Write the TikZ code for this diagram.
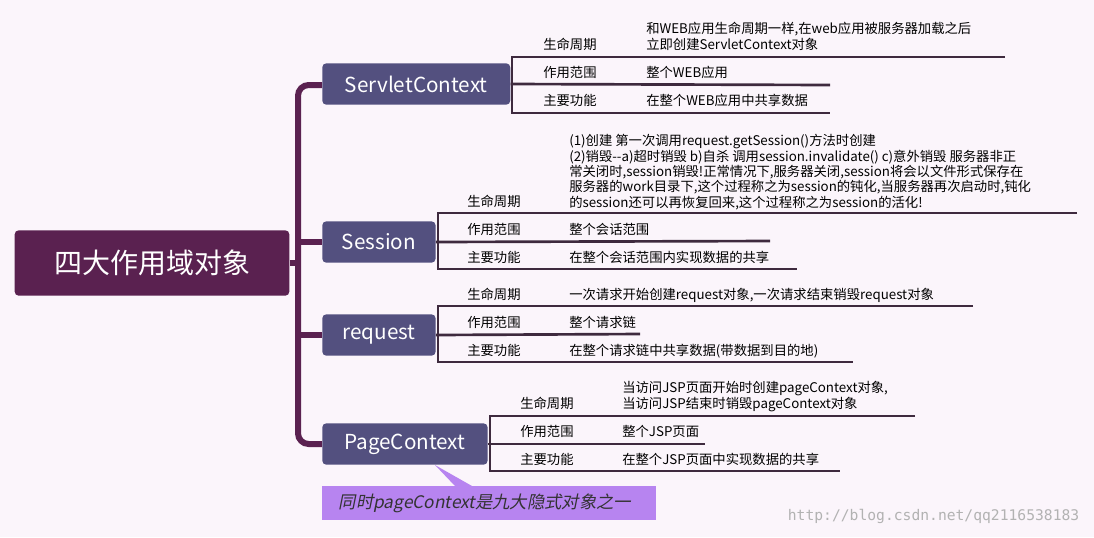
\documentclass[tikz,border=0pt]{standalone}
\usepackage{fontspec}
\setmainfont{Noto Sans CJK SC}
\setmonofont{DejaVu Sans Mono}
\newfontfamily\notefont[FakeSlant=0.2]{Noto Sans CJK SC}
\usetikzlibrary{positioning}
\definecolor{bgpink}{HTML}{FBF5FB}
\definecolor{rootpurple}{HTML}{5A2150}
\definecolor{childblue}{HTML}{53507F}
\definecolor{lineink}{HTML}{3E2A3E}
\definecolor{notepurple}{HTML}{B784F0}
\begin{document}
\begin{tikzpicture}[
    x=0.75pt, y=-0.75pt,
    root/.style={rectangle, rounded corners=3pt, fill=rootpurple, text=white, font=\fontsize{21}{24}\selectfont, minimum width=206pt, minimum height=49pt},
    child/.style={rectangle, rounded corners=3pt, fill=childblue, text=white, font=\fontsize{15.5}{18}\selectfont, minimum height=31pt, anchor=west},
    key/.style={anchor=base west, font=\fontsize{10}{12}\selectfont, text=black, inner sep=0pt},
    val/.style={anchor=base west, font=\fontsize{10}{12}\selectfont, text=black, inner sep=0pt, align=left},
    trunk/.style={line width=4.5pt, rootpurple, rounded corners=8pt},
    rule/.style={line width=2pt, lineink}
]
\fill[bgpink] (0,0) rectangle (1094,537);

% root and trunk
\node [root] (root) at (152,263) {四大作用域对象};
\draw [trunk] (root.east) -- (298,263);
\draw [trunk] (322,85) -- (298,85) -- (298,444) -- (322,444);
\draw [trunk] (298,242) -- (322,242);
\draw [trunk] (298,335) -- (322,335);

% children
\node [child, minimum width=141pt] (servlet) at (322,84) {ServletContext};
\node [child, minimum width=85pt] (session) at (322,242) {Session};
\node [child, minimum width=85pt] (request) at (322,335) {request};
\node [child, minimum width=124pt] (page) at (322,444) {PageContext};

% ServletContext
\coordinate (sc1) at (1005,57);
\coordinate (sc3) at (830,113);
\draw [rule] (servlet.east) -- (830,85);
\draw [rule] (sc1) -- (512,57) -- (512,113) -- (sc3);
\node [key] (sck1) at (543,49) {生命周期};
\node [key] (sck2) at (543,77) {作用范围};
\node [key] (sck3) at (543,105) {主要功能};
\node [val] (scv1) at (646,33) {和WEB应用生命周期一样,在web应用被服务器加载之后};
\node [val] (scv1a) at (646,49) {立即创建ServletContext对象};
\node [val] (scv2) at (646,77) {整个WEB应用};
\node [val] (scv3) at (646,105) {在整个WEB应用中共享数据};

% Session
\coordinate (se1) at (1077,213);
\coordinate (se3) at (797,269);
\draw [rule] (session.east) -- (770,241);
\draw [rule] (se1) -- (438,213) -- (438,269) -- (se3);
\node [key] (sek1) at (467,206) {生命周期};
\node [key] (sek2) at (467,234) {作用范围};
\node [key] (sek3) at (467,262) {主要功能};
\node [val, anchor=south west, font=\fontsize{10}{11.5}\selectfont] (sev1) at (569,210) {(1)创建 第一次调用request.getSession()方法时创建\\(2)销毁-{}-a)超时销毁 b)自杀 调用session.invalidate() c)意外销毁 服务器非正\\常关闭时,session销毁!正常情况下,服务器关闭,session将会以文件形式保存在\\服务器的work目录下,这个过程称之为session的钝化,当服务器再次启动时,钝化\\的session还可以再恢复回来,这个过程称之为session的活化!};
\node [val] (sev2) at (569,234) {整个会话范围};
\node [val] (sev3) at (569,262) {在整个会话范围内实现数据的共享};

% request
\coordinate (rq1) at (973,306);
\coordinate (rq3) at (853,362);
\draw [rule] (request.east) -- (640,334);
\draw [rule] (rq1) -- (438,306) -- (438,362) -- (rq3);
\node [key] (rqk1) at (467,299) {生命周期};
\node [key] (rqk2) at (467,327) {作用范围};
\node [key] (rqk3) at (467,355) {主要功能};
\node [val] (rqv1) at (569,299) {一次请求开始创建request对象,一次请求结束销毁request对象};
\node [val] (rqv2) at (569,327) {整个请求链};
\node [val] (rqv3) at (569,355) {在整个请求链中共享数据(带数据到目的地)};

% PageContext
\coordinate (pc1) at (915,416);
\coordinate (pc3) at (840,471);
\draw [rule] (page.east) -- (705,444);
\draw [rule] (pc1) -- (490,416) -- (490,471) -- (pc3);
\node [key] (pck1) at (520,408) {生命周期};
\node [key] (pck2) at (520,436) {作用范围};
\node [key] (pck3) at (520,464) {主要功能};
\node [val] (pcv1) at (622,392) {当访问JSP页面开始时创建pageContext对象,};
\node [val] (pcv1a) at (622,408) {当访问JSP结束时销毁pageContext对象};
\node [val] (pcv2) at (622,436) {整个JSP页面};
\node [val] (pcv3) at (622,464) {在整个JSP页面中实现数据的共享};

% note
\fill [notepurple] (435,465) -- (472,486) -- (455,486) -- cycle;
\node [rectangle, fill=notepurple, anchor=north west, minimum width=250pt, minimum height=25.5pt, inner sep=0pt] (note) at (322,486) {};
\node [anchor=west, font=\fontsize{13}{15}\notefont, text=black!80] (notetext) at (334,503) {同时pageContext是九大隐式对象之一};

% watermark
\node [anchor=east, font=\fontsize{11}{13}\ttfamily, text=black!30] (mark) at (1084,516) {http://blog.csdn.net/qq2116538183};
\end{tikzpicture}
\end{document}
